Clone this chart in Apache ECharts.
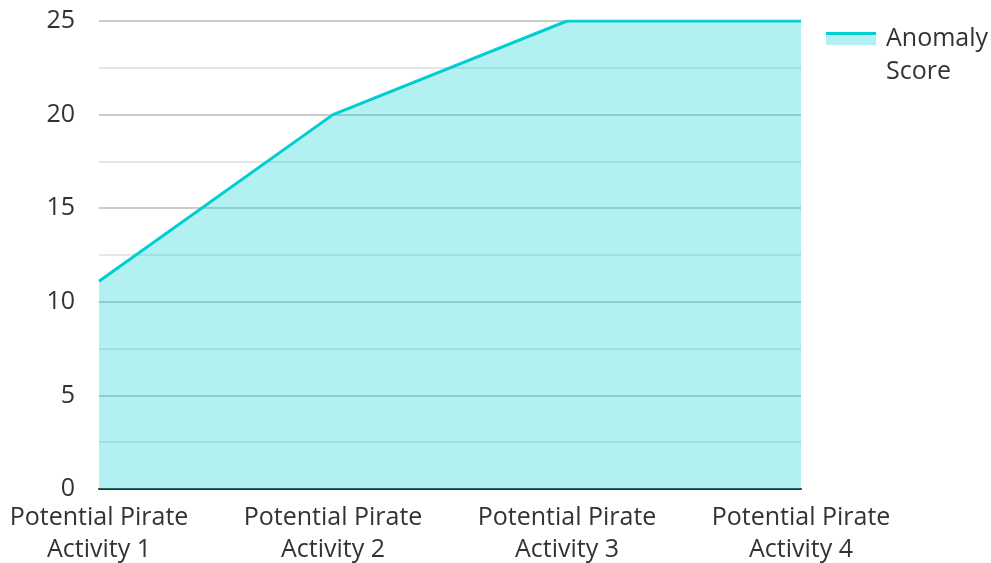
<!DOCTYPE html>
<html>
<head>
<meta charset="utf-8">
<script src="https://cdn.jsdelivr.net/npm/echarts@6/dist/echarts.min.js"></script>
<style>
  html, body { margin: 0; padding: 0; background: #fff; }
  #chart { width: 991px; height: 563px; }
</style>
</head>
<body>
<div id="chart"></div>
<script>
// data
var categories = ["Potential Pirate\nActivity 1", "Potential Pirate\nActivity 2", "Potential Pirate\nActivity 3", "Potential Pirate\nActivity 4"];
var anomalyScore = [11.1, 20, 25, 25];
var seriesName = "Anomaly Score";

var teal = "#00ced1";
var font = "Open Sans";

var myChart = echarts.init(document.getElementById("chart"));
myChart.setOption({
  animation: false,
  textStyle: { fontFamily: font },
  grid: { left: 99, right: 190, top: 21, bottom: 74, containLabel: false, outerBoundsMode: "none" },
  legend: {
    left: 876,
    top: 17,
    icon: "none",
    itemWidth: 0,
    itemHeight: 14,
    itemGap: 0,
    formatter: function () { return "Anomaly\nScore"; },
    textStyle: { fontSize: 25, color: "#333", lineHeight: 33, fontFamily: font },
    data: [seriesName]
  },
  // legend swatch: line on top of filled band
  graphic: [
    { type: "rect", shape: { x: 826, y: 35, width: 50, height: 10 }, style: { fill: "rgba(0,206,209,0.3)" } },
    { type: "rect", shape: { x: 826, y: 32, width: 50, height: 3 }, style: { fill: teal } }
  ],
  xAxis: {
    type: "category",
    boundaryGap: false,
    data: categories,
    axisLine: { show: true, lineStyle: { color: "#333", width: 2 } },
    axisTick: { show: false },
    splitLine: { show: false },
    axisLabel: { fontSize: 25, color: "#333", lineHeight: 32, margin: 13, fontFamily: font }
  },
  yAxis: {
    type: "value",
    min: 0,
    max: 25,
    interval: 5,
    axisLine: { show: false },
    axisTick: { show: false },
    axisLabel: { fontSize: 25, color: "#333", margin: 24, fontFamily: font },
    splitLine: { show: true, lineStyle: { color: "#cccccc", width: 2 } },
    minorTick: { show: false, splitNumber: 2 },
    minorSplitLine: { show: true, lineStyle: { color: "#e6e6e6", width: 2 } }
  },
  series: [
    {
      name: seriesName,
      type: "line",
      data: anomalyScore,
      symbol: "none",
      lineStyle: { color: teal, width: 3 },
      itemStyle: { color: teal },
      areaStyle: { color: teal, opacity: 0.3 }
    }
  ]
});
</script>
</body>
</html>
